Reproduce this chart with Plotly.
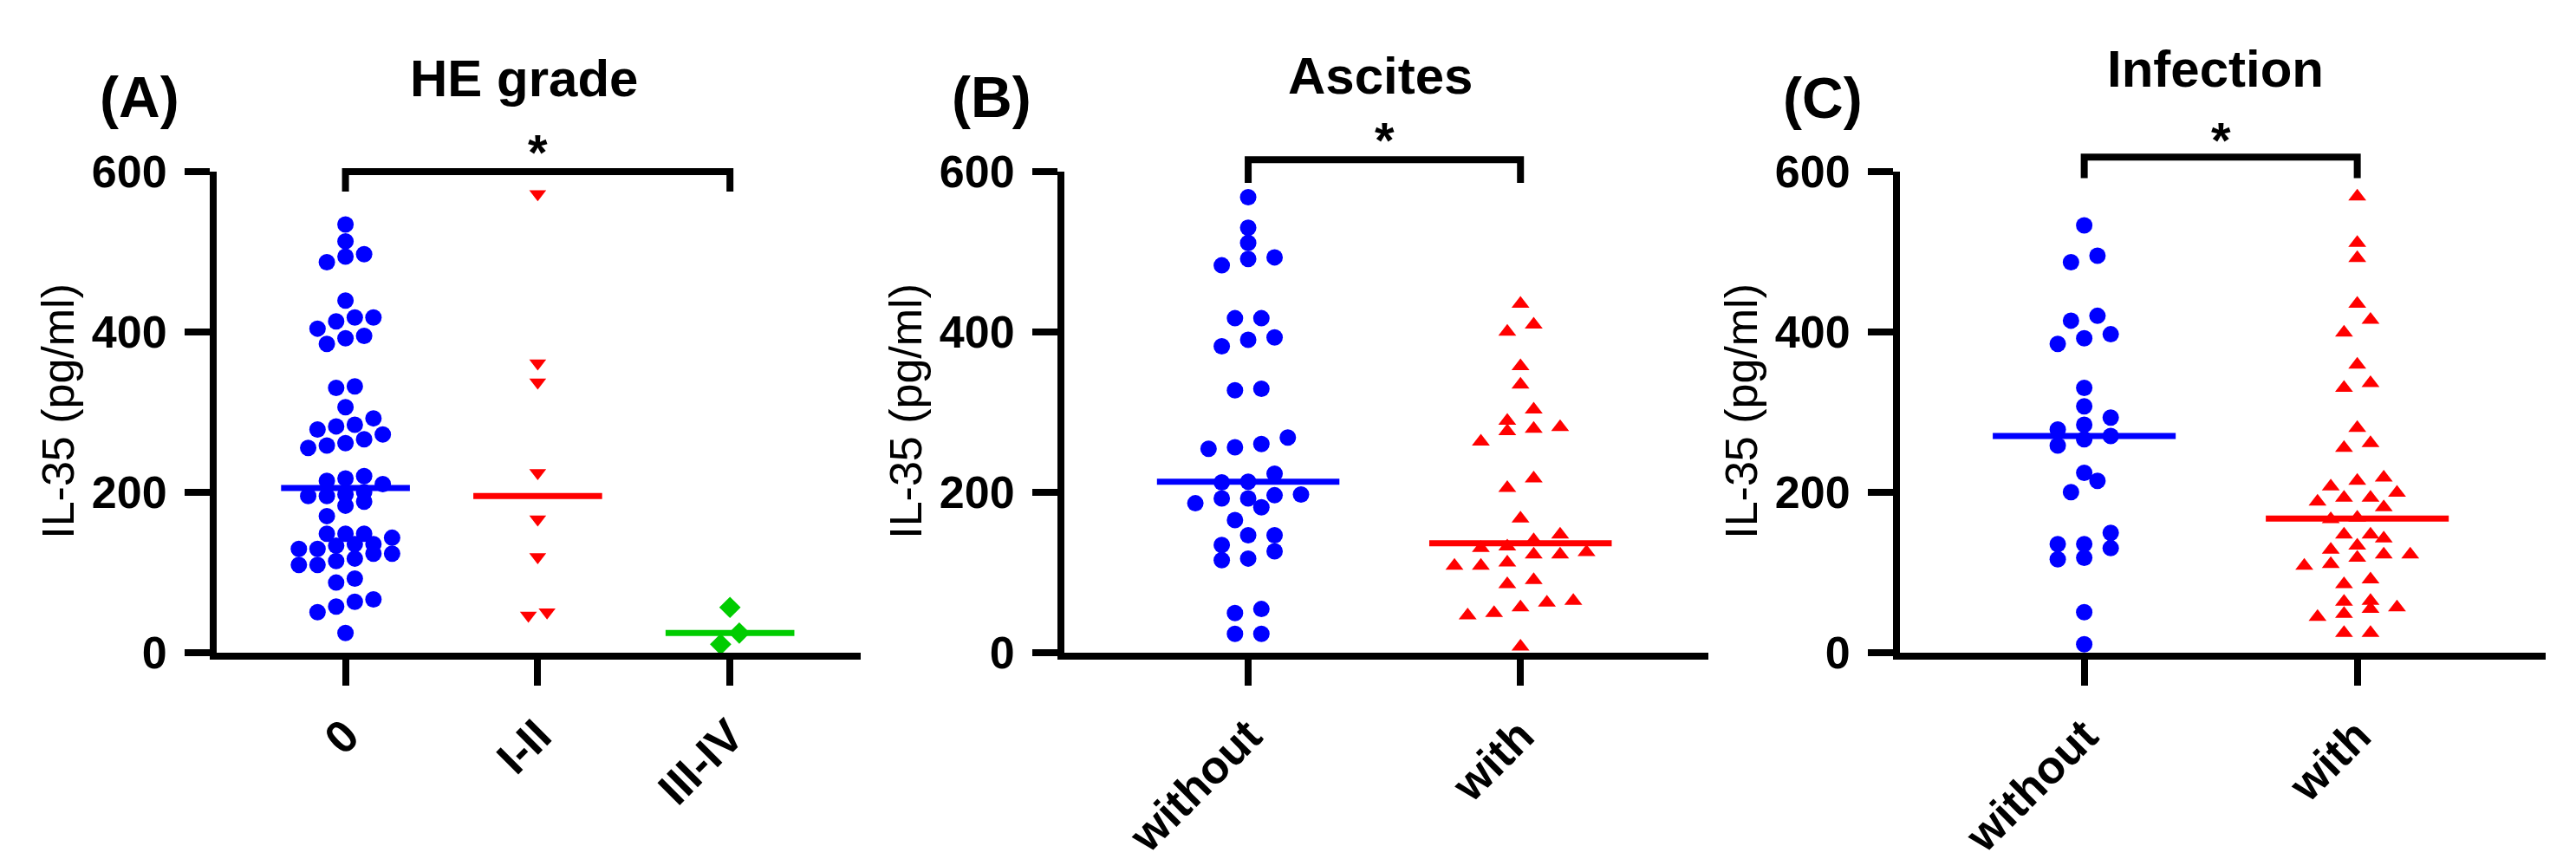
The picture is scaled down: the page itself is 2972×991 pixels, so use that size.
import numpy as np
import plotly.graph_objects as go
from plotly.subplots import make_subplots

W, H = 2972, 991

# Data (IL-35, pg/ml)
he_groups = ["0", "I-II", "III-IV"]
he_0 = [534, 513, 497, 494, 487, 439, 418, 418, 413, 404, 395, 392, 385, 332, 330,
        306, 292, 284, 282, 278, 272, 266, 261, 258, 255, 220, 217, 214, 210, 200,
        197, 195, 195, 188, 183, 170, 148, 148, 148, 143, 135, 135, 133, 129, 129,
        123, 123, 117, 114, 109, 109, 92, 87, 66, 63, 57, 50, 24]
he_1_2 = [572, 361, 337, 224, 166, 119, 50, 46]
he_3_4 = [56, 24, 10]

two_groups = ["without", "with"]
asc_without = [568, 530, 511, 493, 491, 483, 417, 417, 393, 390, 382, 329, 327, 268,
               260, 256, 254, 223, 213, 212, 197, 196, 192, 192, 186, 181, 165, 146,
               146, 134, 126, 117, 115, 54, 49, 23, 23]
asc_with = [435, 409, 400, 357, 334, 303, 289, 281, 279, 276, 263, 217, 205, 167, 147,
            140, 132, 130, 125, 122, 122, 112, 108, 108, 90, 85, 64, 62, 56, 49, 46, 7]
inf_without = [533, 495, 487, 420, 414, 397, 392, 385, 330, 307, 293, 284, 278, 270,
               266, 258, 224, 214, 200, 149, 135, 135, 130, 118, 116, 50, 10]
inf_with = [569, 511, 492, 435, 415, 399, 359, 336, 330, 280, 261, 255, 218, 214, 207,
            199, 193, 193, 188, 181, 168, 166, 147, 147, 142, 133, 128, 122, 122, 118,
            110, 108, 91, 85, 64, 63, 56, 54, 48, 44, 24, 24]

BLUE, RED, GREEN = "#0000FF", "#FF0000", "#00CC00"
FONT = "Liberation Sans, Arial, sans-serif"
Y_TOP, Y_BOT = 171, 760  # pixel rows of y=600 and y=0


def px(x):
    return x / W


def py(y):
    return 1 - y / H


def val_to_paper(v):
    # data value -> paper y (for marks that sit above the axis range)
    return py(Y_BOT) + v / 600 * (py(Y_TOP) - py(Y_BOT))


def swarm(values, step=0.097, row_h=18):
    # simple Prism-like scatter: bin by value, spread each bin symmetrically
    values = np.asarray(values, dtype=float)
    offsets = np.zeros(len(values))
    rows, current, start = [], [], None
    for idx in np.argsort(values):
        if current and values[idx] - start > row_h:
            rows.append(current)
            current = []
        if not current:
            start = values[idx]
        current.append(idx)
    rows.append(current)
    for row in rows:
        n = len(row)
        for k, idx in enumerate(row):
            offsets[idx] = (k - (n - 1) / 2) * step
    return offsets


panels = [
    dict(title="HE grade", letter="(A)", cats=he_groups,
         series=[(he_0, BLUE, "circle", 19), (he_1_2, RED, "triangle-down", 17),
                 (he_3_4, GREEN, "diamond", 19)],
         xrange=[-0.67, 2.68], dom=(242, 985), bracket=(0, 2, 575, 600), star=(1, 640),
         title_px=(596, 57), letter_px=(153, 80)),
    dict(title="Ascites", letter="(B)", cats=two_groups,
         series=[(asc_without, BLUE, "circle", 19), (asc_with, RED, "triangle-up", 18)],
         xrange=[-0.675, 1.69], dom=(1220, 1963), bracket=(0, 1, 586, 615), star=(0.5, 655),
         title_px=(1584, 54), letter_px=(1136, 80)),
    dict(title="Infection", letter="(C)", cats=two_groups,
         series=[(inf_without, BLUE, "circle", 19), (inf_with, RED, "triangle-up", 18)],
         xrange=[-0.675, 1.69], dom=(2184, 2929), bracket=(0, 1, 592, 618), star=(0.5, 655),
         title_px=(2548, 45), letter_px=(2095, 81)),
]

fig = make_subplots(rows=1, cols=3)

ydom = [py(Y_BOT), py(Y_TOP)]
for col, p in enumerate(panels, start=1):
    for i, (vals, color, symbol, size) in enumerate(p["series"]):
        fig.add_trace(go.Scatter(
            x=i + swarm(vals), y=vals, mode="markers", cliponaxis=False,
            marker=dict(color=color, symbol=symbol, size=size, line=dict(width=0)),
            showlegend=False), row=1, col=col)
        med = float(np.median(vals))
        fig.add_trace(go.Scatter(
            x=[i - 0.335, i + 0.335], y=[med, med], mode="lines", cliponaxis=False,
            line=dict(color=color, width=7), showlegend=False), row=1, col=col)

    fig.update_xaxes(domain=[px(p["dom"][0]), px(p["dom"][1])], range=p["xrange"],
                     tickvals=list(range(len(p["cats"]))), ticktext=p["cats"],
                     tickangle=-45, ticks="outside", ticklen=30, tickwidth=8,
                     tickcolor="black", showline=True, linewidth=8, linecolor="black",
                     showgrid=False, zeroline=False, ticklabelstandoff=6,
                     tickfont=dict(family=FONT, size=53, color="black", weight="bold"),
                     row=1, col=col)
    fig.update_yaxes(domain=ydom, range=[0, 600], tickvals=[0, 200, 400, 600],
                     ticks="outside", ticklen=29, tickwidth=8, tickcolor="black",
                     showline=True, linewidth=8, linecolor="black", showgrid=False,
                     zeroline=False, ticklabelstandoff=10,
                     tickfont=dict(family=FONT, size=52, color="black", weight="bold"),
                     row=1, col=col)

    xr = "x" if col == 1 else f"x{col}"
    x0, x1, ylo, yhi = p["bracket"]
    fig.add_shape(type="path", xref=xr, yref="paper",
                  path=(f"M {x0},{val_to_paper(ylo)} L {x0},{val_to_paper(yhi)} "
                        f"L {x1},{val_to_paper(yhi)} L {x1},{val_to_paper(ylo)}"),
                  line=dict(color="black", width=8))
    fig.add_annotation(x=p["star"][0], y=val_to_paper(p["star"][1]), xref=xr, yref="paper",
                       text="*", showarrow=False, yshift=-14, xanchor="center",
                       yanchor="middle",
                       font=dict(family=FONT, size=58, color="black", weight="bold"))
    fig.add_annotation(x=px(p["title_px"][0]), y=py(p["title_px"][1]), xref="paper",
                       yref="paper", text=p["title"], showarrow=False, xanchor="center",
                       yanchor="middle",
                       font=dict(family=FONT, size=60, color="black", weight="bold"))
    fig.add_annotation(x=px(p["letter_px"][0]), y=py(p["letter_px"][1]), xref="paper",
                       yref="paper", text=p["letter"], showarrow=False, xanchor="center",
                       yanchor="middle",
                       font=dict(family=FONT, size=66, color="black", weight="bold"))
    fig.add_annotation(x=px(p["dom"][0] - 183), y=py(465), xref="paper", yref="paper",
                       text="IL-35 (pg/ml)", textangle=-90, showarrow=False,
                       xanchor="center", yanchor="middle",
                       font=dict(family=FONT, size=52, color="black"))

fig.update_layout(width=W, height=H, margin=dict(l=0, r=0, t=0, b=0),
                  paper_bgcolor="white", plot_bgcolor="white", showlegend=False)

fig.write_html("out.html")
